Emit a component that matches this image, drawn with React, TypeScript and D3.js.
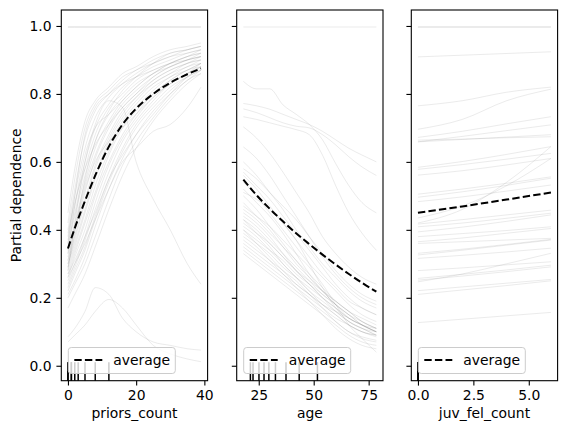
import { useEffect, useRef } from "react";
import * as d3 from "d3";

// grids of each feature
const priorsGrid = [0, 2, 5, 8, 12, 16, 20, 25, 30, 35, 39];
const ageGrid = [18, 24, 30, 36, 42, 48, 54, 60, 66, 72, 78.5];
const juvGrid = [0, 2, 4, 6];

// average (partial dependence) curves
const priorsAvg = [0.345, 0.405, 0.485, 0.56, 0.645, 0.71, 0.757, 0.8, 0.833, 0.858, 0.875];
const ageAvg = [0.548, 0.502, 0.462, 0.425, 0.39, 0.358, 0.327, 0.298, 0.27, 0.244, 0.218];
const juvAvg = [0.45, 0.469, 0.489, 0.51];

// deciles shown as rug
const priorsDeciles = [0, 0, 1, 1, 2, 3, 5, 8, 12];
const ageDeciles = [21.2, 22.4, 25.1, 27.4, 29.6, 32.6, 37.4, 43.4, 51.7];
const juvDeciles = [0, 0, 0, 0, 0, 0, 0, 0, 0];

// individual conditional expectation lines
const priorsIce: number[][] = [
  [0.997, 0.997, 0.997, 0.997, 0.997, 0.997, 0.997, 0.997, 0.997, 0.997, 0.997],
  [0.997, 0.997, 0.997, 0.997, 0.997, 0.997, 0.997, 0.997, 0.997, 0.997, 0.997],
  [0.45, 0.58, 0.72, 0.78, 0.82, 0.86, 0.88, 0.91, 0.93, 0.94, 0.95],
  [0.42, 0.55, 0.7, 0.77, 0.81, 0.85, 0.87, 0.9, 0.92, 0.93, 0.94],
  [0.4, 0.52, 0.67, 0.75, 0.8, 0.84, 0.87, 0.89, 0.91, 0.93, 0.94],
  [0.38, 0.5, 0.64, 0.73, 0.79, 0.83, 0.86, 0.89, 0.91, 0.92, 0.93],
  [0.37, 0.47, 0.6, 0.7, 0.77, 0.82, 0.85, 0.88, 0.9, 0.92, 0.93],
  [0.36, 0.45, 0.58, 0.68, 0.76, 0.8, 0.84, 0.87, 0.89, 0.91, 0.92],
  [0.35, 0.44, 0.56, 0.66, 0.74, 0.79, 0.83, 0.86, 0.89, 0.91, 0.92],
  [0.34, 0.42, 0.54, 0.64, 0.72, 0.78, 0.82, 0.86, 0.88, 0.9, 0.92],
  [0.33, 0.41, 0.53, 0.62, 0.71, 0.77, 0.81, 0.85, 0.88, 0.9, 0.91],
  [0.32, 0.4, 0.51, 0.61, 0.7, 0.76, 0.8, 0.84, 0.87, 0.89, 0.91],
  [0.31, 0.38, 0.49, 0.59, 0.68, 0.75, 0.79, 0.84, 0.87, 0.89, 0.9],
  [0.3, 0.37, 0.48, 0.58, 0.67, 0.74, 0.79, 0.83, 0.86, 0.89, 0.9],
  [0.3, 0.36, 0.46, 0.56, 0.66, 0.73, 0.78, 0.83, 0.86, 0.88, 0.9],
  [0.29, 0.35, 0.45, 0.55, 0.65, 0.72, 0.77, 0.82, 0.85, 0.88, 0.89],
  [0.28, 0.34, 0.43, 0.53, 0.63, 0.71, 0.76, 0.81, 0.85, 0.87, 0.89],
  [0.27, 0.33, 0.42, 0.51, 0.62, 0.7, 0.75, 0.8, 0.84, 0.87, 0.89],
  [0.26, 0.32, 0.4, 0.5, 0.6, 0.68, 0.74, 0.8, 0.84, 0.87, 0.88],
  [0.25, 0.3, 0.38, 0.48, 0.59, 0.67, 0.73, 0.79, 0.83, 0.86, 0.88],
  [0.24, 0.29, 0.37, 0.46, 0.57, 0.66, 0.72, 0.78, 0.83, 0.86, 0.88],
  [0.23, 0.28, 0.35, 0.44, 0.55, 0.64, 0.71, 0.77, 0.82, 0.85, 0.87],
  [0.22, 0.27, 0.34, 0.43, 0.54, 0.63, 0.7, 0.76, 0.81, 0.85, 0.87],
  [0.21, 0.25, 0.32, 0.41, 0.52, 0.61, 0.68, 0.75, 0.8, 0.84, 0.87],
  [0.2, 0.24, 0.3, 0.38, 0.49, 0.59, 0.66, 0.73, 0.79, 0.84, 0.86],
  [0.17, 0.21, 0.27, 0.35, 0.46, 0.56, 0.64, 0.72, 0.78, 0.83, 0.86],
  [0.36, 0.5, 0.68, 0.76, 0.8, 0.83, 0.85, 0.87, 0.89, 0.9, 0.91],
  [0.33, 0.47, 0.62, 0.7, 0.74, 0.78, 0.82, 0.86, 0.89, 0.91, 0.93],
  [0.26, 0.3, 0.36, 0.43, 0.52, 0.6, 0.64, 0.69, 0.71, 0.76, 0.82],
  [0.29, 0.39, 0.55, 0.66, 0.75, 0.81, 0.85, 0.89, 0.92, 0.93, 0.94],
  [0.31, 0.4, 0.52, 0.6, 0.66, 0.7, 0.74, 0.79, 0.83, 0.86, 0.89],
  [0.39, 0.48, 0.58, 0.65, 0.71, 0.76, 0.8, 0.85, 0.88, 0.9, 0.91],
  [0.27, 0.31, 0.38, 0.45, 0.55, 0.62, 0.68, 0.74, 0.8, 0.85, 0.88],
  [0.28, 0.42, 0.6, 0.71, 0.78, 0.76, 0.6, 0.49, 0.4, 0.3, 0.24],
  [0.085, 0.11, 0.16, 0.23, 0.21, 0.14, 0.1, 0.07, 0.06, 0.05, 0.046],
  [0.07, 0.09, 0.12, 0.16, 0.195, 0.17, 0.12, 0.06, 0.035, 0.02, 0.012],
];

const ageIce: number[][] = [
  [0.997, 0.997, 0.997, 0.997, 0.997, 0.997, 0.997, 0.997, 0.997, 0.997, 0.997],
  [0.837, 0.815, 0.815, 0.768, 0.74, 0.71, 0.665, 0.595, 0.53, 0.48, 0.45],
  [0.772, 0.765, 0.755, 0.74, 0.725, 0.71, 0.69, 0.665, 0.64, 0.62, 0.6],
  [0.756, 0.745, 0.73, 0.715, 0.705, 0.7, 0.68, 0.65, 0.615, 0.585, 0.56],
  [0.733, 0.725, 0.715, 0.705, 0.695, 0.68, 0.62, 0.53, 0.45, 0.39, 0.34],
  [0.703, 0.67, 0.625, 0.57, 0.51, 0.45, 0.38, 0.33, 0.29, 0.26, 0.24],
  [0.644, 0.61, 0.56, 0.5, 0.44, 0.38, 0.32, 0.27, 0.23, 0.2, 0.18],
  [0.6, 0.56, 0.51, 0.46, 0.4, 0.35, 0.3, 0.26, 0.22, 0.19, 0.17],
  [0.58, 0.55, 0.51, 0.47, 0.43, 0.38, 0.33, 0.28, 0.24, 0.21, 0.19],
  [0.56, 0.52, 0.47, 0.42, 0.37, 0.32, 0.27, 0.23, 0.19, 0.17, 0.15],
  [0.54, 0.5, 0.45, 0.4, 0.35, 0.3, 0.26, 0.22, 0.18, 0.15, 0.13],
  [0.52, 0.48, 0.44, 0.39, 0.33, 0.27, 0.22, 0.18, 0.14, 0.12, 0.1],
  [0.5, 0.46, 0.41, 0.36, 0.31, 0.27, 0.23, 0.19, 0.16, 0.13, 0.11],
  [0.48, 0.44, 0.4, 0.35, 0.31, 0.26, 0.22, 0.18, 0.15, 0.12, 0.1],
  [0.46, 0.43, 0.39, 0.35, 0.3, 0.26, 0.22, 0.19, 0.16, 0.13, 0.11],
  [0.45, 0.42, 0.38, 0.33, 0.28, 0.24, 0.2, 0.16, 0.13, 0.11, 0.09],
  [0.44, 0.41, 0.37, 0.33, 0.29, 0.25, 0.21, 0.18, 0.15, 0.12, 0.1],
  [0.43, 0.4, 0.36, 0.32, 0.28, 0.24, 0.2, 0.17, 0.14, 0.12, 0.1],
  [0.43, 0.39, 0.35, 0.3, 0.26, 0.22, 0.19, 0.16, 0.13, 0.11, 0.09],
  [0.42, 0.39, 0.36, 0.32, 0.28, 0.25, 0.22, 0.19, 0.16, 0.14, 0.12],
  [0.41, 0.38, 0.34, 0.3, 0.26, 0.22, 0.18, 0.15, 0.12, 0.1, 0.085],
  [0.4, 0.37, 0.34, 0.31, 0.27, 0.24, 0.21, 0.18, 0.15, 0.13, 0.11],
  [0.4, 0.36, 0.32, 0.28, 0.25, 0.21, 0.17, 0.13, 0.1, 0.08, 0.07],
  [0.39, 0.36, 0.33, 0.29, 0.26, 0.23, 0.2, 0.17, 0.14, 0.12, 0.1],
  [0.38, 0.35, 0.31, 0.28, 0.24, 0.21, 0.18, 0.15, 0.12, 0.1, 0.09],
  [0.37, 0.34, 0.31, 0.27, 0.24, 0.21, 0.18, 0.16, 0.14, 0.12, 0.11],
  [0.36, 0.33, 0.3, 0.27, 0.23, 0.19, 0.15, 0.11, 0.08, 0.06, 0.05],
  [0.35, 0.32, 0.29, 0.26, 0.23, 0.2, 0.17, 0.14, 0.12, 0.1, 0.09],
  [0.34, 0.31, 0.28, 0.25, 0.22, 0.19, 0.16, 0.13, 0.1, 0.085, 0.075],
  [0.33, 0.3, 0.27, 0.24, 0.21, 0.18, 0.15, 0.12, 0.09, 0.07, 0.06],
  [0.47, 0.44, 0.41, 0.37, 0.33, 0.29, 0.24, 0.18, 0.12, 0.08, 0.04],
  [0.51, 0.49, 0.46, 0.42, 0.37, 0.3, 0.23, 0.17, 0.13, 0.11, 0.1],
  [0.57, 0.53, 0.49, 0.44, 0.39, 0.34, 0.29, 0.24, 0.2, 0.17, 0.15],
];

const juvIce: number[][] = [
  [0.997, 0.997, 0.997, 0.997],
  [0.997, 0.997, 0.997, 0.997],
  [0.909, 0.914, 0.919, 0.924],
  [0.765, 0.78, 0.805, 0.82],
  [0.696, 0.725, 0.78, 0.814],
  [0.672, 0.69, 0.712, 0.733],
  [0.659, 0.675, 0.692, 0.709],
  [0.659, 0.666, 0.673, 0.68],
  [0.664, 0.667, 0.671, 0.674],
  [0.584, 0.601, 0.622, 0.645],
  [0.578, 0.592, 0.608, 0.625],
  [0.561, 0.574, 0.591, 0.61],
  [0.42, 0.46, 0.54, 0.645],
  [0.435, 0.47, 0.53, 0.61],
  [0.505, 0.52, 0.537, 0.556],
  [0.496, 0.512, 0.531, 0.552],
  [0.483, 0.497, 0.514, 0.532],
  [0.417, 0.43, 0.444, 0.458],
  [0.409, 0.42, 0.434, 0.449],
  [0.394, 0.408, 0.425, 0.444],
  [0.38, 0.389, 0.398, 0.409],
  [0.365, 0.376, 0.39, 0.404],
  [0.36, 0.365, 0.37, 0.375],
  [0.331, 0.343, 0.357, 0.372],
  [0.326, 0.34, 0.355, 0.37],
  [0.316, 0.325, 0.335, 0.346],
  [0.28, 0.288, 0.297, 0.306],
  [0.257, 0.269, 0.282, 0.296],
  [0.252, 0.264, 0.277, 0.291],
  [0.247, 0.27, 0.3, 0.331],
  [0.221, 0.232, 0.243, 0.254],
  [0.21, 0.223, 0.236, 0.25],
  [0.127, 0.137, 0.147, 0.157],
];

const yTicks = [0, 0.2, 0.4, 0.6, 0.8, 1.0];

const panels = [
  { label: "priors_count", grid: priorsGrid, ice: priorsIce, avg: priorsAvg, deciles: priorsDeciles, ticks: [0, 20, 40], fmt: "d" },
  { label: "age", grid: ageGrid, ice: ageIce, avg: ageAvg, deciles: ageDeciles, ticks: [25, 50, 75], fmt: "d" },
  { label: "juv_fel_count", grid: juvGrid, ice: juvIce, avg: juvAvg, deciles: juvDeciles, ticks: [0, 2.5, 5], fmt: ".1f" },
];

const W = 567;
const H = 433;
const FONT = "DejaVu Sans, sans-serif";
const FS = 13.9;

export default function App() {
  const svgRef = useRef<SVGSVGElement>(null);

  useEffect(() => {
    if (!svgRef.current) return;
    const svg = d3.select(svgRef.current);
    svg.selectAll("*").remove();

    const top = 10;
    const bottom = 380.7;
    const lefts = [61.3, 236.7, 411.3];
    const pw = 146.3;

    // shared y scale
    const y = d3.scaleLinear().domain([-0.044, 1.047]).range([bottom, top]);

    svg.append("text")
      .attr("transform", `translate(21, ${(top + bottom) / 2}) rotate(-90)`)
      .attr("text-anchor", "middle")
      .style("font-family", FONT)
      .style("font-size", `${FS}px`)
      .text("Partial dependence");

    panels.forEach((p, pi) => {
      const x0 = lefts[pi];
      const ext = d3.extent(p.grid) as [number, number];
      const pad = (ext[1] - ext[0]) * 0.05;
      const x = d3.scaleLinear().domain([ext[0] - pad, ext[1] + pad]).range([x0, x0 + pw]);

      const g = svg.append("g");
      const line = d3.line<number>()
        .x((d, i) => x(p.grid[i]))
        .y((d) => y(d))
        .curve(d3.curveMonotoneX);

      // ICE lines
      g.selectAll(".ice")
        .data(p.ice)
        .enter()
        .append("path")
        .attr("d", (d) => line(d))
        .style("fill", "none")
        .style("stroke", "#7f7f7f")
        .style("stroke-opacity", 0.2)
        .style("stroke-width", 0.8);

      // average
      g.append("path")
        .attr("d", line(p.avg))
        .style("fill", "none")
        .style("stroke", "#000")
        .style("stroke-width", 2)
        .style("stroke-dasharray", "7.4,3.2");

      // deciles rug
      const rugTop = bottom - 0.05 * (bottom - top);
      g.selectAll(".rug")
        .data(p.deciles)
        .enter()
        .append("line")
        .attr("x1", (d) => x(d))
        .attr("x2", (d) => x(d))
        .attr("y1", bottom)
        .attr("y2", rugTop)
        .style("stroke", "#000")
        .style("stroke-width", 1.5);

      // legend
      const lx = x0 + 7;
      const ly = 347.5;
      g.append("rect")
        .attr("x", lx)
        .attr("y", ly)
        .attr("width", 107)
        .attr("height", 26)
        .attr("rx", 3)
        .style("fill", "#fff")
        .style("fill-opacity", 0.8)
        .style("stroke", "#cccccc")
        .style("stroke-width", 1);
      g.append("line")
        .attr("x1", lx + 6)
        .attr("x2", lx + 34)
        .attr("y1", ly + 12.5)
        .attr("y2", ly + 12.5)
        .style("stroke", "#000")
        .style("stroke-width", 2)
        .style("stroke-dasharray", "7.4,3.2");
      g.append("text")
        .attr("x", lx + 45)
        .attr("y", ly + 17.5)
        .style("font-family", FONT)
        .style("font-size", `${FS}px`)
        .text("average");

      // frame
      g.append("rect")
        .attr("x", x0)
        .attr("y", top)
        .attr("width", pw)
        .attr("height", bottom - top)
        .style("fill", "none")
        .style("stroke", "#000")
        .style("stroke-width", 1.1);

      // x axis
      const xa = g.append("g").attr("transform", `translate(0, ${bottom})`)
        .call(d3.axisBottom(x).tickValues(p.ticks).tickFormat(d3.format(p.fmt)).tickSize(4.9).tickPadding(4.9));
      xa.select(".domain").remove();
      xa.selectAll("line").style("stroke-width", 1.1);
      xa.selectAll("text").style("font-family", FONT).style("font-size", `${FS}px`);

      g.append("text")
        .attr("x", x0 + pw / 2)
        .attr("y", 418)
        .attr("text-anchor", "middle")
        .style("font-family", FONT)
        .style("font-size", `${FS}px`)
        .text(p.label);

      // y axis
      const ya = g.append("g").attr("transform", `translate(${x0}, 0)`)
        .call(d3.axisLeft(y).tickValues(yTicks).tickFormat(pi === 0 ? d3.format(".1f") : () => "").tickSize(4.9).tickPadding(4.9));
      ya.select(".domain").remove();
      ya.selectAll("line").style("stroke-width", 1.1);
      ya.selectAll("text").style("font-family", FONT).style("font-size", `${FS}px`);
    });
  }, []);

  return (
    <svg
      ref={svgRef}
      width={W}
      height={H}
      style={{ position: "absolute", left: 0, top: 0, background: "#fff" }}
    />
  );
}
